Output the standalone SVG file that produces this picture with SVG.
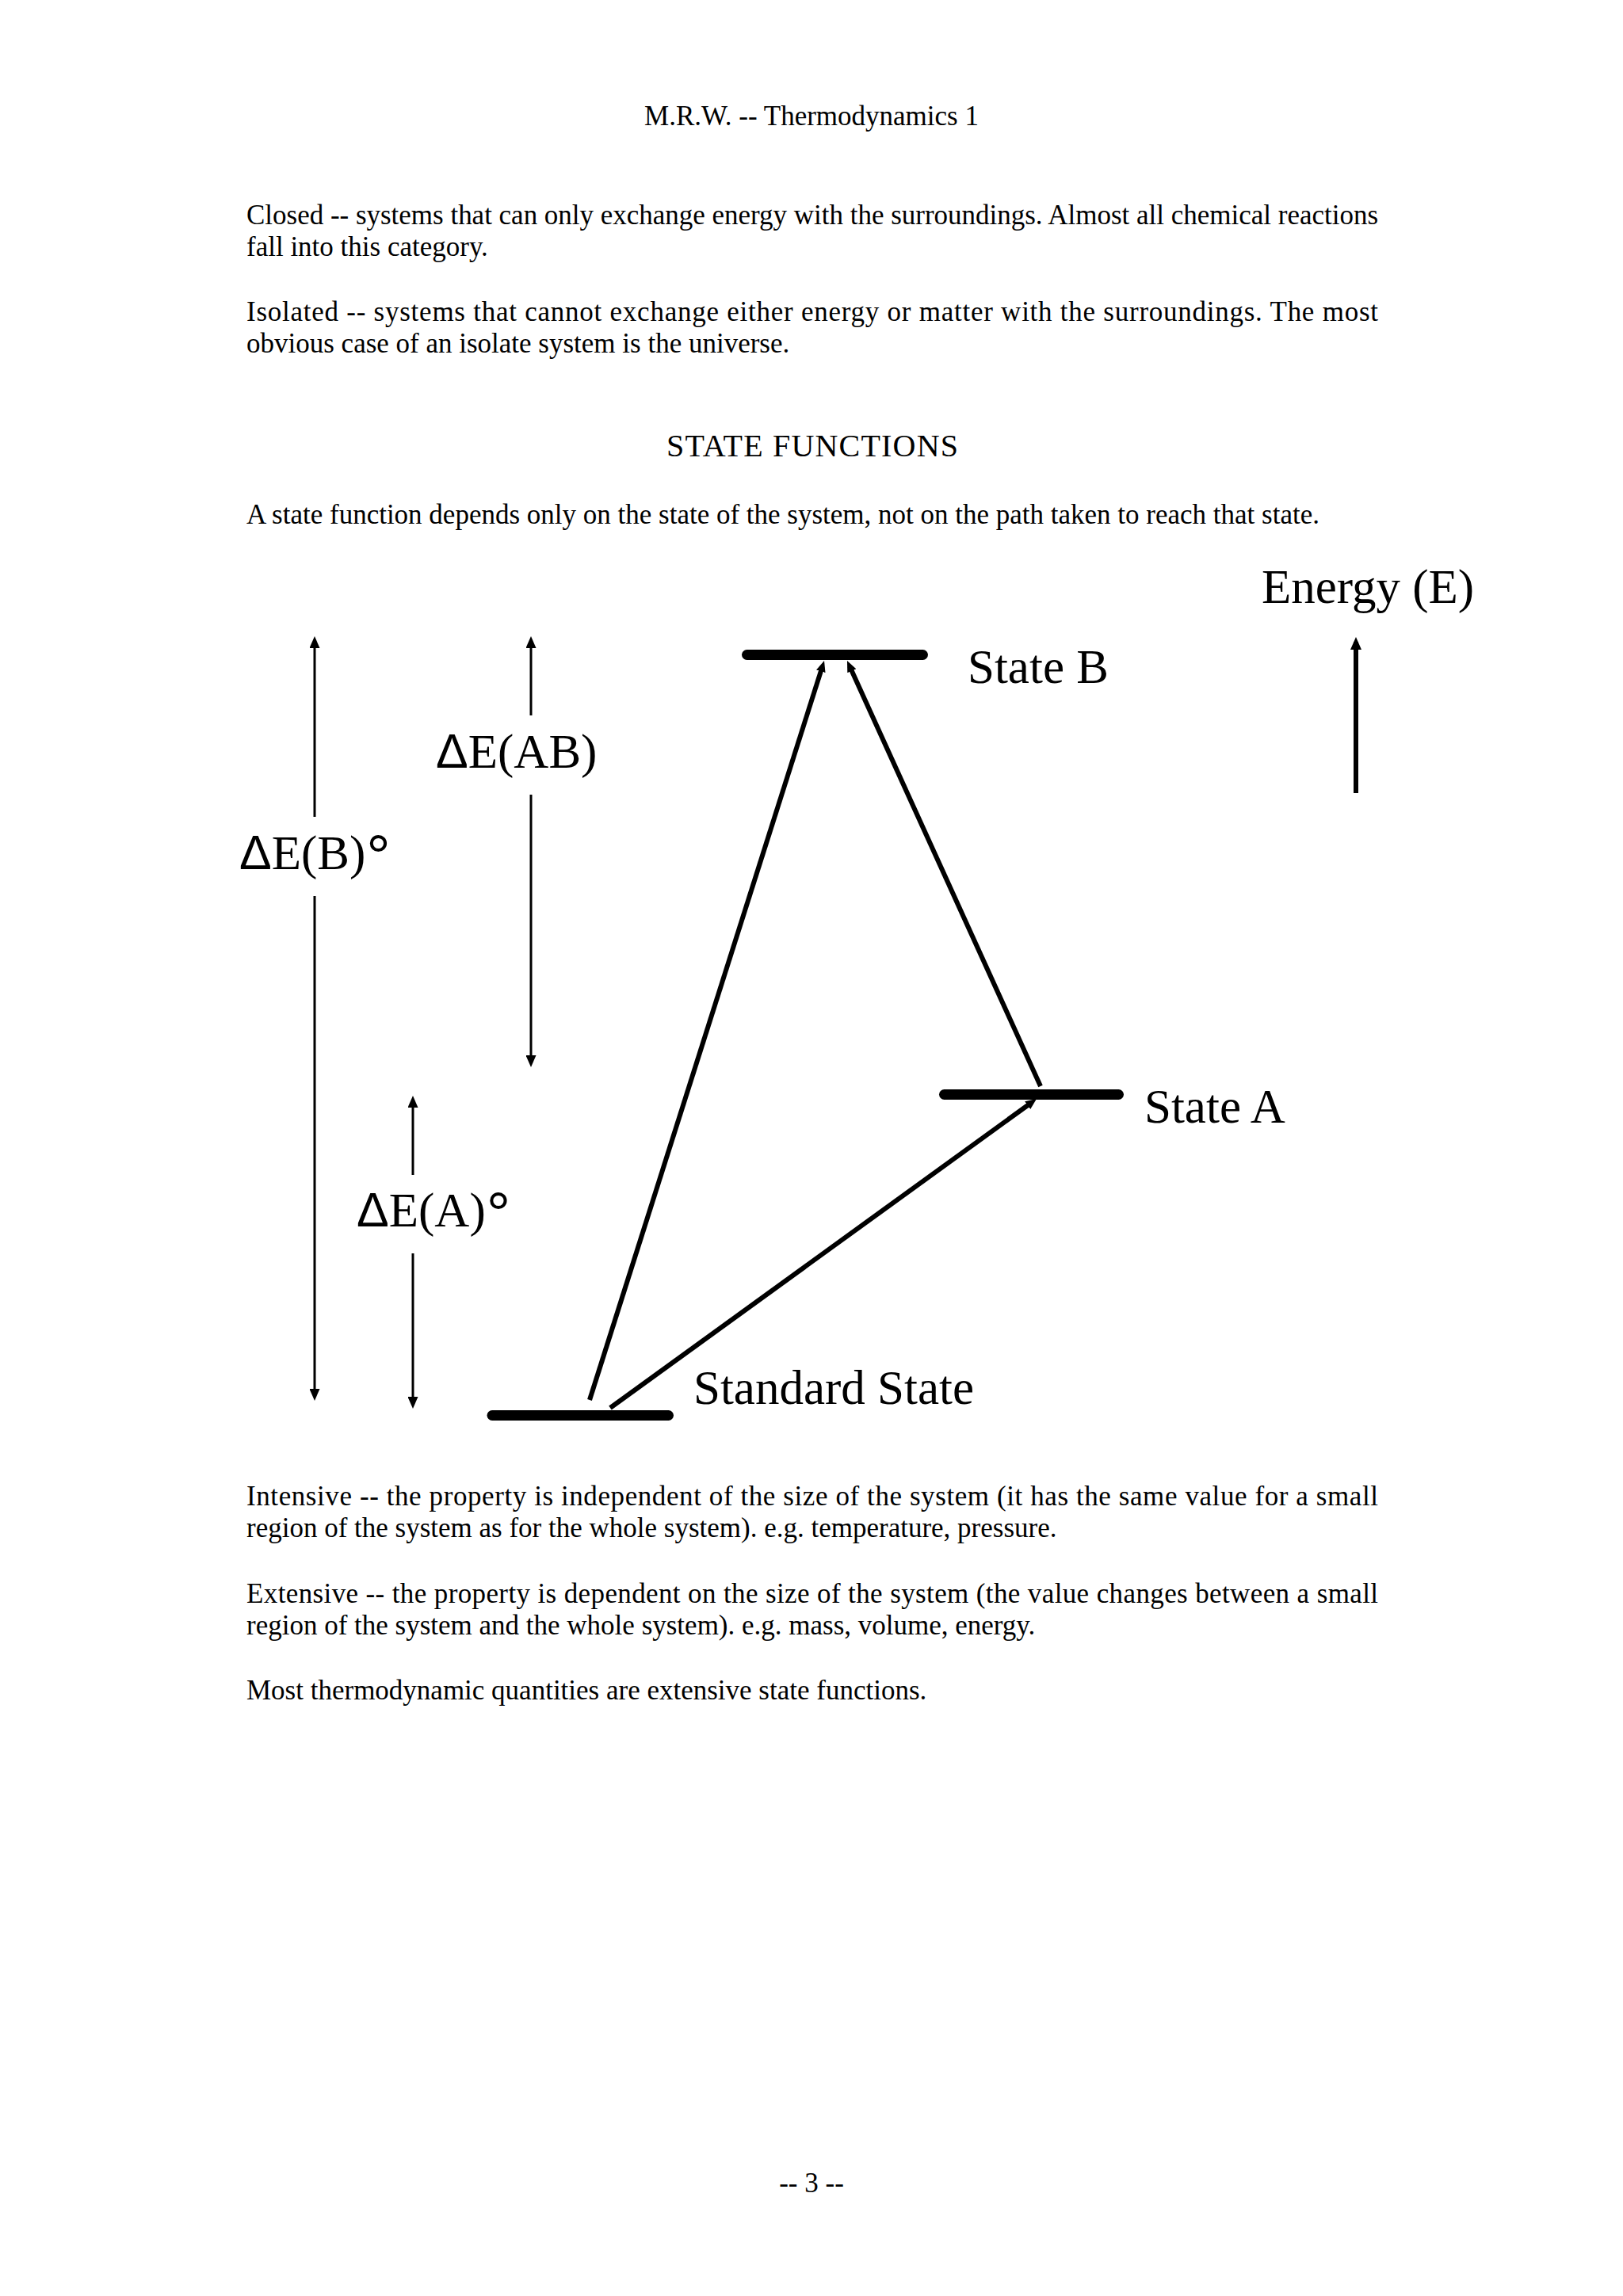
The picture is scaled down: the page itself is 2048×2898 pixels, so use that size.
<svg xmlns="http://www.w3.org/2000/svg" width="2048" height="2898" viewBox="0 0 2048 2898">
<style>
.body{font-family:"Liberation Serif","Times New Roman",serif;font-size:35px;fill:#000}
.head{font-size:40px}
.lbl{font-family:"Liberation Serif","Times New Roman",serif;font-size:61px;fill:#000}
.sans{font-family:"Liberation Sans",Arial,sans-serif}
.deg{font-family:"Liberation Sans",Arial,sans-serif;font-size:76px}
.bar{stroke:#000;stroke-width:13;stroke-linecap:round;fill:none}
.conn{stroke:#000;stroke-width:6;fill:none;marker-end:url(#headConn)}
.dim{stroke:#000;stroke-width:3;fill:none;marker-end:url(#headDim)}
.axis{stroke:#000;stroke-width:6;fill:none;marker-end:url(#headAxis)}
</style>
<defs>
<marker id="headConn" markerUnits="userSpaceOnUse" markerWidth="14" markerHeight="12" refX="6" refY="6" orient="auto"><path d="M0,0 L14,6 L0,12 z" fill="#000"/></marker>
<marker id="headDim" markerUnits="userSpaceOnUse" markerWidth="15" markerHeight="13" refX="10" refY="6.5" orient="auto"><path d="M0,0 L15,6.5 L0,13 z" fill="#000"/></marker>
<marker id="headAxis" markerUnits="userSpaceOnUse" markerWidth="16" markerHeight="14" refX="10" refY="7" orient="auto"><path d="M0,0 L16,7 L0,14 z" fill="#000"/></marker>
</defs>
<rect width="2048" height="2898" fill="#fff"/>

<g id="page-text" class="body">
<text x="1024" y="158" text-anchor="middle">M.R.W. -- Thermodynamics 1</text>
<text x="311" y="283" textLength="1428" lengthAdjust="spacing">Closed -- systems that can only exchange energy with the surroundings. Almost all chemical reactions</text>
<text x="311" y="323">fall into this category.</text>
<text x="311" y="405" textLength="1428" lengthAdjust="spacing">Isolated -- systems that cannot exchange either energy or matter with the surroundings. The most</text>
<text x="311" y="445">obvious case of an isolate system is the universe.</text>
<text class="head" x="841" y="576" textLength="368" lengthAdjust="spacing">STATE FUNCTIONS</text>
<text x="311" y="661">A state function depends only on the state of the system, not on the path taken to reach that state.</text>
<text x="311" y="1900" textLength="1428" lengthAdjust="spacing">Intensive -- the property is independent of the size of the system (it has the same value for a small</text>
<text x="311" y="1940">region of the system as for the whole system). e.g. temperature, pressure.</text>
<text x="311" y="2023" textLength="1428" lengthAdjust="spacing">Extensive -- the property is dependent on the size of the system (the value changes between a small</text>
<text x="311" y="2063">region of the system and the whole system). e.g. mass, volume, energy.</text>
<text x="311" y="2145">Most thermodynamic quantities are extensive state functions.</text>
<text x="1024" y="2767" text-anchor="middle">-- 3 --</text>
</g>

<g id="state-b">
<line class="bar" x1="942.5" y1="826.5" x2="1164.5" y2="826.5"/>
<text class="lbl" x="1221" y="862">State B</text>
</g>
<g id="state-a">
<line class="bar" x1="1191.5" y1="1381.5" x2="1411.5" y2="1381.5"/>
<text class="lbl" x="1444" y="1417">State A</text>
</g>
<g id="standard-state">
<line class="bar" x1="621" y1="1786.5" x2="843.5" y2="1786.5"/>
<text class="lbl" x="875" y="1772">Standard State</text>
</g>
<g id="energy-axis">
<text class="lbl" x="1592" y="761">Energy (E)</text>
<path class="axis" d="M1711,1001 L1711,810"/>
</g>

<g id="label-deb">
<text class="lbl" x="302" y="1097"><tspan class="sans">Δ</tspan>E(B)<tspan class="deg" dx="1" dy="10">°</tspan></text>
</g>
<g id="label-deab">
<text class="lbl" x="550" y="969"><tspan class="sans">Δ</tspan>E(AB)</text>
</g>
<g id="label-dea">
<text class="lbl" x="450" y="1548"><tspan class="sans">Δ</tspan>E(A)<tspan class="deg" dx="1" dy="10">°</tspan></text>
</g>

<g id="connectors">
<path class="conn" d="M744,1767 L1037.6,841.6"/>
<path class="conn" d="M1313,1371 L1072.3,841.3"/>
<path class="conn" d="M770,1777 L1301.5,1391.7"/>
<path class="dim" d="M397,1031 L397,808"/>
<path class="dim" d="M397,1131 L397,1763"/>
<path class="dim" d="M670,903 L670,808"/>
<path class="dim" d="M670,1003 L670,1342"/>
<path class="dim" d="M521,1483 L521,1388"/>
<path class="dim" d="M521,1582 L521,1773"/>
</g>
</svg>
